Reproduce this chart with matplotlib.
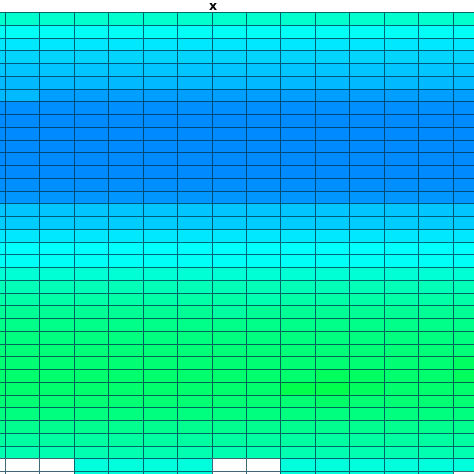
import numpy as np
import matplotlib.pyplot as plt
from matplotlib.colors import LinearSegmentedColormap

# value per row (0 = blue, 0.33 = cyan, 1 = green)
row_vals = [0.50, 0.36, 0.27, 0.22, 0.18, 0.15, 0.08, 0.04, 0.03, 0.03, 0.03, 0.03,
            0.03, 0.04, 0.06, 0.18, 0.20, 0.27, 0.33, 0.36, 0.48, 0.58, 0.64, 0.70,
            0.74, 0.78, 0.80, 0.82, 0.84, 0.84, 0.82, 0.78, 0.72, 0.66, 0.60, 0.45, 0.45]
n_cols = 15
# explicit per-cell tweaks (row, col, value)
tweaks = [(6, 0, 0.15), (6, 1, 0.15), (22, 8, 0.6), (23, 7, 0.66), (29, 9, 0.95),
          (29, 10, 0.95), (28, 10, 0.9), (28, 11, 0.88), (29, 11, 0.9), (30, 10, 0.86),
          (27, 14, 0.88), (28, 14, 0.9)]
blank = [(35, 0), (35, 1), (35, 2), (35, 7), (35, 8), (36, 0), (36, 1), (36, 2),
         (36, 7), (36, 8), (36, 14)]

grid = np.array([[v] * n_cols for v in row_vals], dtype=float)
for r, c, v in tweaks:
    grid[r, c] = v
for r, c in blank:
    grid[r, c] = np.nan
grid = np.ma.masked_invalid(grid)

cmap = LinearSegmentedColormap.from_list(
    "bcg", [(0.0, (0, 0.5, 1)), (0.33, (0, 1, 1)), (0.55, (0, 1, 0.75)), (1.0, (0, 1, 0.25))])
cmap.set_bad("white")

x_edges = 5 + 34.43 * np.arange(-1, n_cols)
y_edges = 12 + 12.75 * np.arange(len(row_vals) + 1)

fig = plt.figure(figsize=(4.74, 4.74), dpi=100)
ax = fig.add_axes([0, 0, 1, 1])
ax.pcolormesh(x_edges, y_edges, grid, cmap=cmap, vmin=0, vmax=1,
              edgecolors=(0, 0.2, 0.3, 0.75), linewidth=0.5)
ax.set_xlim(0, 474)
ax.set_ylim(474, 0)
ax.axis("off")
ax.text(213, 6, "x", ha="center", va="center", fontsize=9, fontweight="bold")
fig.savefig("out.png", dpi=100)
